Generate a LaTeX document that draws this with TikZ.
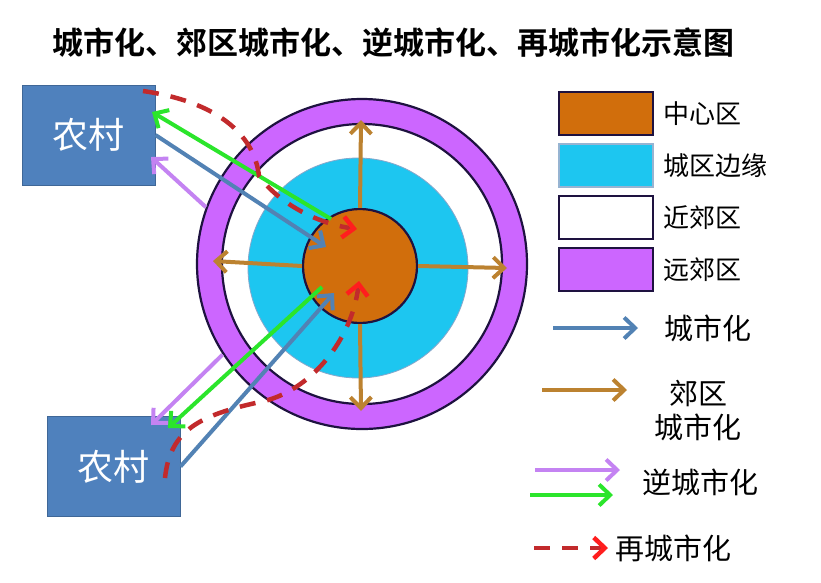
\documentclass[tikz,border=0pt]{standalone}
\usepackage{fontspec}
\setmainfont{Noto Sans CJK SC}[BoldFont={Noto Sans CJK SC Bold}]
\usetikzlibrary{arrows.meta,positioning}
\definecolor{corebrown}{HTML}{D16E0C}
\definecolor{edgecyan}{HTML}{1DC6F0}
\definecolor{farpurple}{HTML}{CC66FF}
\definecolor{ringline}{HTML}{1E1240}
\definecolor{ruralblue}{HTML}{4F81BD}
\definecolor{urbblue}{HTML}{5282B4}
\definecolor{suburbbrown}{HTML}{BC8230}
\definecolor{counterviolet}{HTML}{C483F2}
\definecolor{countergreen}{HTML}{2BE52B}
\definecolor{reurbred}{HTML}{C22A2C}
\definecolor{headred}{HTML}{FF1E1E}
\begin{document}
\begin{tikzpicture}[x=1pt, y=-1pt, >={Straight Barb[length=11pt,width=21pt]}]

			% Define custom styles
			\tikzstyle{ring} = [circle, draw=ringline, line width=2.2pt, inner sep=0pt]
			\tikzstyle{rural} = [rectangle, draw=ruralblue!80!black, line width=1pt, fill=ruralblue, minimum width=133pt,
			minimum height=100pt, text=white, font=\fontsize{36}{36}\selectfont]
			\tikzstyle{keybox} = [rectangle, draw=ringline, line width=2pt, minimum width=94pt, minimum height=43pt, inner sep=0pt]
			\tikzstyle{keytext} = [font=\fontsize{26}{26}\selectfont, inner sep=0pt]
			\tikzstyle{arrowtext} = [font=\fontsize{29}{34}\selectfont, align=center, inner sep=0pt]
			\tikzstyle{urb} = [->, draw=urbblue, line width=4pt]
			\tikzstyle{suburb} = [->, draw=suburbbrown, line width=4pt]
			\tikzstyle{counterA} = [->, draw=counterviolet, line width=4pt]
			\tikzstyle{counterB} = [->, draw=countergreen, line width=4pt]
			\tikzstyle{reurb} = [-{Straight Barb[length=11pt,width=21pt,color=headred]}, draw=reurbred, line width=4.5pt, dash pattern=on 16pt off 12pt]

			\useasboundingbox[fill=white] (0,0) rectangle (821,582);

			% Title
			\node[font=\fontsize{31}{31}\selectfont\bfseries] (title) at (393,43) {城市化、郊区城市化、逆城市化、再城市化示意图};

			% Concentric zones
			\node[ring, fill=farpurple, minimum size=330pt] (far) at (362,264) {};
			\node[ring, fill=white, minimum size=280pt] (near) at (362,264) {};
			\node[circle, draw=urbblue!70, line width=0.8pt, fill=edgecyan, minimum size=220pt] (edge) at (358,268) {};
			\node[ring, fill=corebrown, minimum size=114pt] (core) at (360,266) {};

			% Rural areas
			\node[rural] (ruralN) at (88.5,135) {农村};
			\node[rural] (ruralS) at (113.5,466.5) {农村};

			% End points of the flows
			\coordinate (upN) at (361,120);
			\coordinate (upS) at (361,411);
			\coordinate (upW) at (213,261);
			\coordinate (upE) at (507,268);
			\coordinate (cityN) at (326,247);
			\coordinate (cityS) at (334,293);
			\coordinate (greenN) at (331,219);
			\coordinate (greenS) at (322,287);
			\coordinate (ruralNg) at (152,112);
			\coordinate (ruralNv) at (151,157);
			\coordinate (ruralSv) at (151,425);
			\coordinate (ruralSg) at (168,428);
			\coordinate (reN) at (143,91);
			\coordinate (reNend) at (357,229);
			\coordinate (reS) at (165,478);
			\coordinate (reSend) at (359,281);

			% Suburbanisation
			\draw[suburb] (core.north) -- (upN);
			\draw[suburb] (core.south) -- (upS);
			\draw[suburb] (core.west) -- (upW);
			\draw[suburb] (core.east) -- (upE);

			% Urbanisation
			\draw[urb] (ruralN.east) -- (cityN);
			\draw[urb] (ruralS.east) -- (cityS);

			% Counter-urbanisation
			\draw[counterA] (far.160) -- (ruralNv);
			\draw[counterA] (far.213) -- (ruralSv);
			\draw[counterB] (greenN) -- (ruralNg);
			\draw[counterB] (greenS) -- (ruralSg);

			% Re-urbanisation
			\draw[reurb] (reN) .. controls (225,103) and (255,140) .. (259,176)
			.. controls (280,205) and (320,224) .. (reNend);
			\draw[reurb] (reS) .. controls (170,430) and (200,415) .. (260,402)
			.. controls (310,392) and (352,340) .. (reSend);

			% Legend of zones
			\node[keybox, fill=corebrown] (keyCore) at (606,113.5) {};
			\node[keybox, fill=edgecyan, draw=urbblue!60, below=7pt of keyCore] (keyEdge) {};
			\node[keybox, fill=white, below=7pt of keyEdge] (keyNear) {};
			\node[keybox, fill=farpurple, below=7pt of keyNear] (keyFar) {};
			\node[keytext, right=9pt of keyCore] (tCore) {中心区};
			\node[keytext, right=9pt of keyEdge] (tEdge) {城区边缘};
			\node[keytext, right=9pt of keyNear] (tNear) {近郊区};
			\node[keytext, right=9pt of keyFar] (tFar) {远郊区};

			% Legend of flows
			\coordinate (kU1) at (553,328);
			\coordinate (kU2) at (638,328);
			\coordinate (kS1) at (542,390);
			\coordinate (kS2) at (627,390);
			\coordinate (kA1) at (535,470);
			\coordinate (kA2) at (620,470);
			\coordinate (kB1) at (530,495);
			\coordinate (kB2) at (613,495);
			\coordinate (kR1) at (534,548);
			\coordinate (kR2) at (608,548);
			\draw[urb] (kU1) -- (kU2);
			\draw[suburb] (kS1) -- (kS2);
			\draw[counterA] (kA1) -- (kA2);
			\draw[counterB] (kB1) -- (kB2);
			\draw[reurb] (kR1) -- (kR2);
			\node[arrowtext] (tUrb) at (708,328) {城市化};
			\node[arrowtext] (tSub) at (698,411) {郊区\\城市化};
			\node[arrowtext] (tCounter) at (700,482) {逆城市化};
			\node[arrowtext, anchor=west] (tRe) at (615,548) {再城市化};

		\end{tikzpicture}
\end{document}
